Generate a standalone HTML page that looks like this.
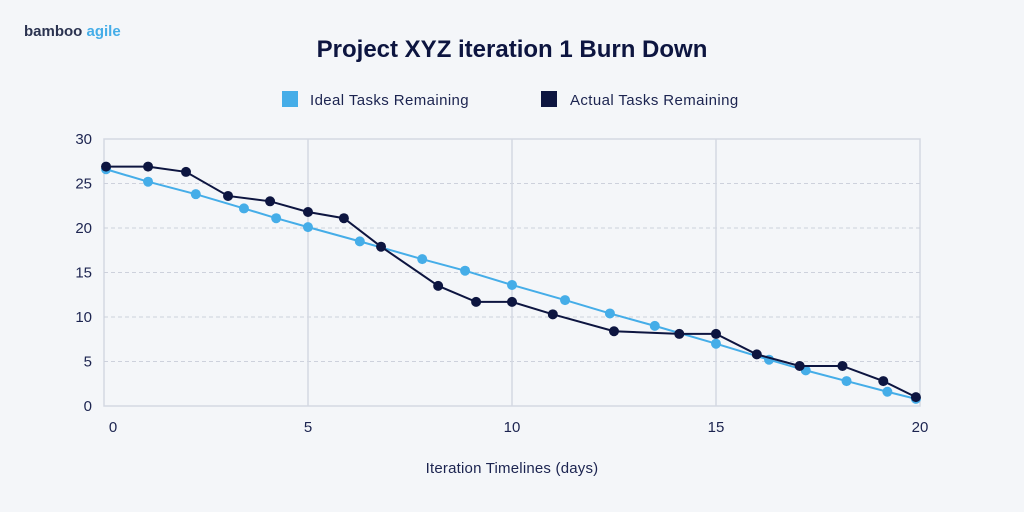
<!DOCTYPE html>
<html><head><meta charset="utf-8"><style>
body{margin:0;background:#f4f6f9;}
svg{display:block;font-family:"Liberation Sans",sans-serif;}
</style></head><body>
<svg id="c" width="1024" height="512">
<rect width="1024" height="512" fill="#f4f6f9"/>
<text x="24" y="36" font-size="15" font-weight="bold" fill="#2b3350">bamboo <tspan fill="#45ade8">agile</tspan></text>
<text x="512" y="57" text-anchor="middle" font-size="24" font-weight="bold" fill="#0d1540">Project XYZ iteration 1 Burn Down</text>
<g>
<rect x="282" y="91" width="16" height="16" fill="#45ade8"/>
<text x="310" y="105" font-size="15" letter-spacing="0.4" fill="#1c2450">Ideal Tasks Remaining</text>
<rect x="541" y="91" width="16" height="16" fill="#0d1540"/>
<text x="570" y="105" font-size="15" letter-spacing="0.4" fill="#1c2450">Actual Tasks Remaining</text>
</g>
<text x="512" y="473" text-anchor="middle" font-size="15" letter-spacing="0.2" fill="#1c2450">Iteration Timelines (days)</text>
<g id="grid"></g><g id="lines"></g>
</svg>
<script>
const yTicks=[0,5,10,15,20,25,30];
const xTicks=[0,5,10,15,20];
const idealX=[0.05,1.08,2.25,3.43,4.22,5,6.27,7.8,8.85,10,11.3,12.4,13.5,15,16.3,17.2,18.2,19.2,19.9];
const idealY=[26.6,25.2,23.8,22.2,21.1,20.1,18.5,16.5,15.2,13.6,11.9,10.4,9.0,7.0,5.2,4.0,2.8,1.6,0.8];
const actualX=[0.05,1.08,2.01,3.04,4.07,5,5.88,6.79,8.19,9.12,10,11,12.5,14.1,15,16,17.05,18.1,19.1,19.9];
const actualY=[26.9,26.9,26.3,23.6,23.0,21.8,21.1,17.9,13.5,11.7,11.7,10.3,8.4,8.1,8.1,5.8,4.5,4.5,2.8,1.0];
const NS='http://www.w3.org/2000/svg';
const X=v=>104+v*40.8, Y=v=>406-v*8.9;
function mk(t,a,p){const e=document.createElementNS(NS,t);for(const k in a)e.setAttribute(k,a[k]);p.appendChild(e);return e;}
const g=document.getElementById('grid'), L=document.getElementById('lines');
const frame=mk('rect',{x:X(0),y:Y(30),width:X(20)-X(0),height:Y(0)-Y(30),fill:'none',stroke:'#d4d8e2','stroke-width':1.5},g);


yTicks.forEach(v=>{
 if(v>0&&v<30){const l=mk('line',{x1:X(0),x2:X(20),y1:Y(v),y2:Y(v),stroke:'#cdd1dc','stroke-dasharray':'4 3'},g);
 
 }
 const t=mk('text',{x:92,y:Y(v)+5,'text-anchor':'end','font-size':15,fill:'#1c2450'},g);t.textContent=v;
 
 
});
xTicks.forEach((v,i)=>{
 if(v>0&&v<20){const l=mk('line',{x1:X(v),x2:X(v),y1:Y(30),y2:Y(0),stroke:'#d4d8e2','stroke-width':1.5},g);
 
 }
 const t=mk('text',{x:X(v)+(i==0?9:0),y:432,'text-anchor':'middle','font-size':15,fill:'#1c2450'},g);t.textContent=v;
 
 
});
function series(xs,ys,col,name){
 const p=mk('polyline',{points:xs.map((x,i)=>X(x)+','+Y(ys[i])).join(' '),fill:'none',stroke:col,'stroke-width':2},L);
 
 
 xs.forEach((x,i)=>{const c=mk('circle',{cx:X(x),cy:Y(ys[i]),r:5,fill:col},L);
 
 });
}
series(idealX,idealY,'#45ade8','ideal');
series(actualX,actualY,'#0d1540','actual');
</script>
</body></html>
